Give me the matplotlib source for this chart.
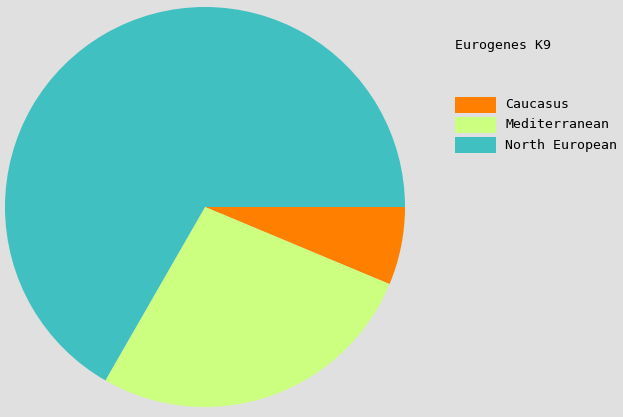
import matplotlib
matplotlib.use("Agg")
import matplotlib.pyplot as plt
from matplotlib.patches import Rectangle

title = "Eurogenes K9"
categories = ["Caucasus", "Mediterranean", "North European"]
values = [6.3, 27.0, 66.7]
colors = ["#ff8000", "#ccff80", "#40c0c0"]

W, H = 623, 417
fig = plt.figure(figsize=(W / 100, H / 100), dpi=100)
fig.patch.set_facecolor("#e0e0e0")

ax = fig.add_axes([5 / W, 10 / H, 400 / W, 400 / H])
ax.set_facecolor("#e0e0e0")
ax.pie(values, colors=colors, startangle=0, counterclock=False,
       wedgeprops=dict(linewidth=0, antialiased=True))
ax.set_xlim(-1, 1)
ax.set_ylim(-1, 1)
ax.set_aspect("equal")
ax.axis("off")

mono = "DejaVu Sans Mono"
fig.text(455 / W, 1 - 45 / H, title, family=mono, fontsize=9.5,
         color="black", va="center", ha="left")

box_tops = [97, 117, 137]
for i, (cat, col) in enumerate(zip(categories, colors)):
    top = box_tops[i]
    fig.patches.append(Rectangle((455 / W, 1 - (top + 15.5) / H), 41 / W, 15.5 / H,
                                 transform=fig.transFigure, facecolor=col,
                                 edgecolor="none"))
    fig.text(505 / W, 1 - (top + 8) / H, cat, family=mono, fontsize=9.5,
             color="black", va="center", ha="left")

fig.savefig("out.png", dpi=100, facecolor=fig.get_facecolor())
